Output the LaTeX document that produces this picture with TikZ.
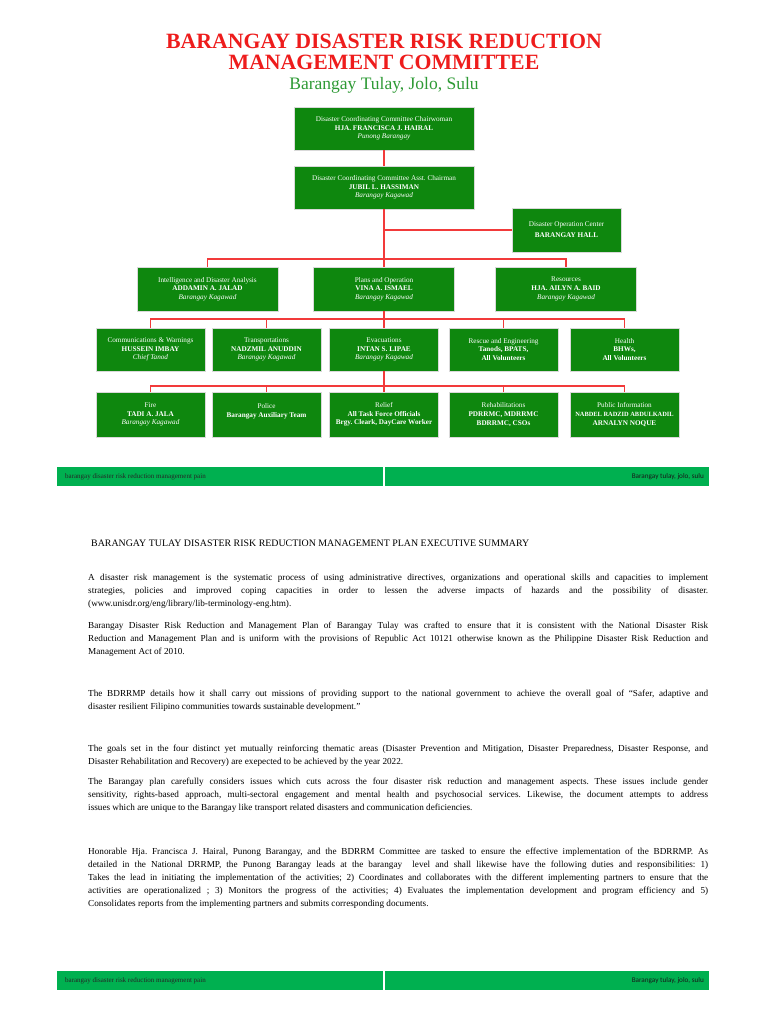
\documentclass[tikz,border=0pt]{standalone}
\usepackage{fontspec}
\setmainfont{Liberation Serif}
\newfontfamily\footfont{Carlito}
\usetikzlibrary{positioning}
\definecolor{titlered}{HTML}{EE1C1C}
\definecolor{subgreen}{HTML}{2E9A35}
\definecolor{boxgreen}{HTML}{0E870E}
\definecolor{linkred}{HTML}{F23A3A}
\definecolor{footgreen}{HTML}{00B050}
\hyphenpenalty=10000
\exhyphenpenalty=10000
\frenchspacing

\begin{document}
\begin{tikzpicture}[x=1pt, y=-1pt,
    unit/.style={draw=black!15, line width=0.8pt, fill=boxgreen, text=white, align=center,
        inner sep=0pt, minimum height=43pt, font=\fontsize{7.2}{8.7}\selectfont},
    chairbox/.style={unit, minimum width=180pt},
    leadbox/.style={unit, minimum width=141pt, minimum height=44pt},
    teambox/.style={unit, minimum width=109pt},
    link/.style={linkred, line width=1.4pt},
    para/.style={anchor=north west, inner sep=0pt, text width=620pt, align=justify,
        font=\fontsize{9.2}{13}\selectfont},
    footbar/.style={fill=footgreen},
]
    % Page
    \fill[white] (0,0) rectangle (768,1024);
    \useasboundingbox (0,0) rectangle (768,1024);

    % Title
    \node[font=\fontsize{21.8}{21}\selectfont\bfseries, text=titlered, align=center] (title) at (384,52)
        {BARANGAY DISASTER RISK REDUCTION\\MANAGEMENT COMMITTEE};
    \node[font=\fontsize{17.5}{18}\selectfont, text=subgreen] (place) at (384,85) {Barangay Tulay, Jolo, Sulu};

    % Chair and assistant
    \node[chairbox] (chair) at (384,128.5) {Disaster Coordinating Committee Chairwoman\\
        \textbf{HJA. FRANCISCA J. HAIRAL}\\\textit{Punong Barangay}};
    \node[chairbox] (asst) at (384,187.5) {Disaster Coordinating Committee Asst. Chairman\\
        \textbf{JUBIL L. HASSIMAN}\\\textit{Barangay Kagawad}};
    \node[teambox, minimum height=44pt] (opcenter) at (566.5,230) {Disaster Operation Center\\[2pt]
        \textbf{BARANGAY HALL}};

    % Leads
    \node[leadbox] (intel) at (207.5,289) {Intelligence and Disaster Analysis\\
        \textbf{ADDAMIN A. JALAD}\\\textit{Barangay Kagawad}};
    \node[leadbox] (plans) at (384,289) {Plans and Operation\\
        \textbf{VINA A. ISMAEL}\\\textit{Barangay Kagawad}};
    \node[leadbox] (resources) at (566,289) {Resources\\
        \textbf{HJA. AILYN A. BAID}\\\textit{Barangay Kagawad}};

    % Teams
    \node[teambox] (comms) at (150.5,349.5) {Communications \& Warnings\\
        \textbf{HUSSEIN IMBAY}\\\textit{Chief Tanod}};
    \node[teambox] (transpo) at (266.5,349.5) {Transportations\\
        \textbf{NADZMIL ANUDDIN}\\\textit{Barangay Kagawad}};
    \node[teambox] (evac) at (384,349.5) {Evacuations\\
        \textbf{INTAN S. LIPAE}\\\textit{Barangay Kagawad}};
    \node[teambox] (rescue) at (503.5,349.5) {Rescue and Engineering\\
        \textbf{Tanods, BPATS,}\\\textbf{All Volunteers}};
    \node[teambox] (health) at (624.5,349.5) {Health\\
        \textbf{BHWs,}\\\textbf{All Volunteers}};

    \node[teambox, minimum height=45pt] (fire) at (150.5,414.5) {Fire\\
        \textbf{TADI A. JALA}\\\textit{Barangay Kagawad}};
    \node[teambox, minimum height=45pt] (police) at (266.5,414.5) {Police\\
        \textbf{Barangay Auxiliary Team}\\~};
    \node[teambox, minimum height=45pt] (relief) at (384,414.5) {Relief\\
        \textbf{All Task Force Officials}\\\textbf{Brgy. Cleark, DayCare Worker}};
    \node[teambox, minimum height=45pt] (rehab) at (503.5,414.5) {Rehabilitations\\
        \textbf{PDRRMC, MDRRMC}\\\textbf{BDRRMC, CSOs}};
    \node[teambox, minimum height=45pt] (pubinfo) at (624.5,414.5) {Public Information\\
        \fontsize{6.4}{8.7}\selectfont\textbf{NABDEL RADZID ABDULKADIL}\\\textbf{ARNALYN NOQUE}};

    % Links
    \coordinate (bus3) at (384,259);
    \coordinate (bus4) at (384,319);
    \coordinate (bus5) at (384,386);
    \draw[link] (chair) -- (asst);
    \draw[link] (asst) -- (plans);
    \draw[link] (opcenter.west) -- (opcenter.west -| asst.south);
    \draw[link] (intel.north) |- (bus3) -| (resources.north);
    \draw[link] (plans) -- (evac);
    \draw[link] (comms.north) |- (bus4) -| (health.north);
    \draw[link] (transpo.north) -- (transpo.north |- bus4);
    \draw[link] (rescue.north) -- (rescue.north |- bus4);
    \draw[link] (evac) -- (relief);
    \draw[link] (fire.north) |- (bus5) -| (pubinfo.north);
    \draw[link] (police.north) -- (police.north |- bus5);
    \draw[link] (rehab.north) -- (rehab.north |- bus5);

    % Footers
    \foreach \y in {467, 971} {
        \fill[footbar] (57,\y) rectangle (383,\y+19);
        \fill[footbar] (385,\y) rectangle (709,\y+19);
        \node[anchor=west, inner sep=0pt, font=\fontsize{7}{8}\selectfont, text=black!85] at (65,\y+9.5)
            {barangay disaster risk reduction management pain};
        \node[anchor=east, inner sep=0pt, font=\footfont\fontsize{7.2}{8}\selectfont, text=black!90] at (704,\y+9.5)
            {Barangay tulay, jolo, sulu};
    }

    % Summary
    \node[anchor=west, inner sep=0pt, font=\fontsize{9.9}{11}\selectfont] (heading) at (91,543)
        {BARANGAY TULAY DISASTER RISK REDUCTION MANAGEMENT PLAN EXECUTIVE SUMMARY};
    \node[para] (p1) at (88,574) {A disaster risk management is the systematic process of using administrative directives, organizations and operational skills and capacities to implement\linebreak
        strategies, policies and improved coping capacities in order to lessen the adverse impacts of hazards and the possibility of disaster.\linebreak
        (www.unisdr.org/eng/library/lib-terminology-eng.htm).};
    \node[para] (p2) at (88,622) {Barangay Disaster Risk Reduction and Management Plan of Barangay Tulay was crafted to ensure that it is consistent with the National Disaster Risk\linebreak
        Reduction and Management Plan and is uniform with the provisions of Republic Act 10121 otherwise known as the Philippine Disaster Risk Reduction and\linebreak
        Management Act of 2010.};
    \node[para] (p3) at (88,690) {The BDRRMP details how it shall carry out missions of providing support to the national government to achieve the overall goal of ``Safer, adaptive and\linebreak
        disaster resilient Filipino communities towards sustainable development.''};
    \node[para] (p4) at (88,745) {The goals set in the four distinct yet mutually reinforcing thematic areas (Disaster Prevention and Mitigation, Disaster Preparedness, Disaster Response, and\linebreak
        Disaster Rehabilitation and Recovery) are exepected to be achieved by the year 2022.};
    \node[para] (p5) at (88,778) {The Barangay plan carefully considers issues which cuts across the four disaster risk reduction and management aspects. These issues include gender\linebreak
        sensitivity, rights-based approach, multi-sectoral engagement and mental health and psychosocial services. Likewise, the document attempts to address\linebreak
        issues which are unique to the Barangay like transport related disasters and communication deficiencies.};
    \node[para] (p6) at (88,848) {Honorable Hja. Francisca J. Hairal, Punong Barangay, and the BDRRM Committee are tasked to ensure the effective implementation of the BDRRMP. As\linebreak
        detailed in the National DRRMP, the Punong Barangay leads at the barangay\ \ level and shall likewise have the following duties and responsibilities: 1)\linebreak
        Takes the lead in initiating the implementation of the activities; 2) Coordinates and collaborates with the different implementing partners to ensure that the\linebreak
        activities are operationalized ; 3) Monitors the progress of the activities; 4) Evaluates the implementation development and program efficiency and 5)\linebreak
        Consolidates reports from the implementing partners and submits corresponding documents.};
\end{tikzpicture}
\end{document}
